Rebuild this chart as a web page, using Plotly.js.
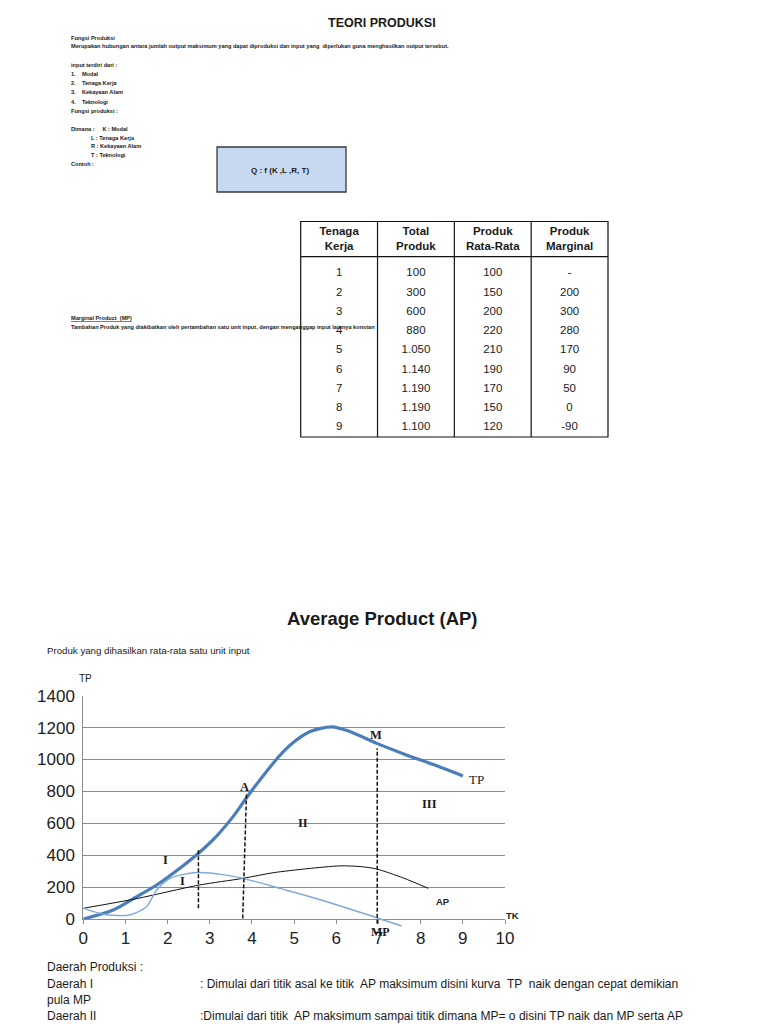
<!DOCTYPE html>
<html><head><meta charset="utf-8">
<script src="https://cdn.plot.ly/plotly-3.0.1.min.js"></script>
<style>html,body{margin:0;padding:0;background:#fff}#page{width:768px;height:1024px}</style>
</head><body><div id="page"></div>
<script>
// ---- table data ----
const tableHeaders = ['Tenaga<br>Kerja', 'Total<br>Produk', 'Produk<br>Rata-Rata', 'Produk<br>Marginal'];
const tenagaKerja = ['1','2','3','4','5','6','7','8','9'];
const totalProduk = ['100','300','600','880','1.050','1.140','1.190','1.190','1.100'];
const produkRataRata = ['100','150','200','220','210','190','170','150','120'];
const produkMarginal = ['-','200','300','280','170','90','50','0','-90'];

// ---- chart data ----
const tpX = [0, 0.71, 1.27, 1.74, 2.29, 2.73, 3.16, 3.56, 3.87, 4.27, 4.66, 4.95, 5.38, 5.89, 6.32, 6.96, 7.6, 8.3, 9];
const tpY = [0, 56, 140, 213, 318, 412, 520, 645, 760, 900, 1025, 1100, 1175, 1205, 1176, 1101, 1035, 968, 897];
const apX = [0, 1.27, 2.73, 3.79, 4.5, 5.3, 6.09, 6.6, 6.96, 7.59, 8.18];
const apY = [67, 128, 212, 255, 290, 315, 333, 328, 313, 257, 192];
const mpX = [0, 0.55, 1.1, 1.5, 1.74, 2.06, 2.61, 3.1, 3.79, 4.66, 5.5, 6.96, 7.55];
const mpY = [67, 27, 25, 77, 182, 255, 290, 285, 255, 192, 130, 8, -44];
const xTicks = [0,1,2,3,4,5,6,7,8,9,10];
const yTicks = [0,200,400,600,800,1000,1200,1400];

const W = 768, H = 1024;
const X = p => p / W;
const Y = p => 1 - p / H;
const SANS = 'Liberation Sans, Arial, sans-serif';
const SERIF = 'Liberation Serif, Times New Roman, serif';

const annotations = [];
function T(text, x, y, size, o) {
  o = o || {};
  annotations.push({
    text: text, xref: 'paper', yref: 'paper', x: X(x), y: Y(y),
    xanchor: o.xa || 'left', yanchor: 'middle', showarrow: false,
    borderpad: 0,
    font: {family: o.family || SANS, size: size, color: o.color || '#1a1a1a', weight: o.weight || 'normal'}
  });
}

// ---- document text ----
const S = 5.6;
T('TEORI PRODUKSI', 382, 23, 12.5, {xa: 'center', weight: 'bold'});
T('Fungsi Produksi', 70, 38, S, {weight: 'bold'});
T('Merupakan hubungan antara jumlah output maksimum yang dapat diproduksi dan input yang  diperlukan guna menghasilkan output tersebut.', 70, 46, S, {weight: 'bold'});
T('input terdiri dari :', 70, 64.5, S, {weight: 'bold'});
T('1.    Modal', 70, 73.8, S, {weight: 'bold'});
T('2.    Tenaga Kerja', 70, 83.1, S, {weight: 'bold'});
T('3.    Kekayaan Alam', 70, 92.4, S, {weight: 'bold'});
T('4.    Teknologi', 70, 101.7, S, {weight: 'bold'});
T('Fungsi produksi :', 70, 111, S, {weight: 'bold'});
T('Dimana :     K : Modal', 70, 129, S, {weight: 'bold'});
T('L : Tenaga Kerja', 90, 137.5, S, {weight: 'bold'});
T('R : Kekayaan Alam', 90, 146, S, {weight: 'bold'});
T('T : Teknologi', 90, 154.5, S, {weight: 'bold'});
T('Contoh :', 70, 163.5, S, {weight: 'bold'});
T('Q : f (K ,L ,R, T)', 280, 170, 8, {xa: 'center', weight: 'bold'});
T('<span style="text-decoration:underline">Marginal Product  (MP)</span>', 70, 318, S, {weight: 'bold'});
T('Tambahan Produk yang diakibatkan oleh pertambahan satu unit input, dengan menganggap input lainnya konstan', 70, 327, S, {weight: 'bold'});

T('Average Product (AP)', 382, 618, 18.5, {xa: 'center', weight: 'bold'});
T('Produk yang dihasilkan rata-rata satu unit input', 46, 650, 9.7);
T('TP', 78, 678, 10);

const B = 12;
T('Daerah Produksi :', 46, 967, B);
T('Daerah I', 46, 984, B);
T(': Dimulai dari titik asal ke titik  AP maksimum disini kurva  TP  naik dengan cepat demikian', 199, 984, B);
T('pula MP', 46, 1000, B);
T('Daerah II', 46, 1016, B);
T(':Dimulai dari titik  AP maksimum sampai titik dimana MP= o disini TP naik dan MP serta AP', 199, 1016, B);

// ---- chart labels ----
T('M', 376, 735, 12.5, {xa: 'center', family: SERIF, weight: 'bold'});
T('A', 244.5, 786.5, 12.5, {xa: 'center', family: SERIF, weight: 'bold'});
T('I', 165, 860, 12.5, {xa: 'center', family: SERIF, weight: 'bold'});
T('I', 182, 881, 12.5, {xa: 'center', family: SERIF, weight: 'bold'});
T('II', 303, 823, 12.5, {xa: 'center', family: SERIF, weight: 'bold'});
T('III', 429, 804, 12.5, {xa: 'center', family: SERIF, weight: 'bold'});
T('TP', 476, 779, 13, {xa: 'center', family: SERIF});
T('AP', 443, 901.5, 9.5, {xa: 'center', weight: 'bold'});
T('TK', 512, 915, 9.5, {xa: 'center', weight: 'bold'});
T('MP', 380, 932, 12, {xa: 'center', family: SERIF, weight: 'bold'});

// ---- shapes ----
const shapes = [];
shapes.push({type: 'rect', xref: 'paper', yref: 'paper', x0: X(217), x1: X(346), y0: Y(192), y1: Y(147),
  fillcolor: '#c6d9f1', line: {color: '#3a3a3a', width: 1.3}, layer: 'below'});
const tL = 300.7, tR = 608, tT = 221.5, tB = 437, tHead = 256.7;
const colW = (tR - tL) / 4;
shapes.push({type: 'rect', xref: 'paper', yref: 'paper', x0: X(tL), x1: X(tR), y0: Y(tB), y1: Y(tT), line: {color: '#111', width: 1.2}});
for (let i = 1; i < 4; i++) {
  shapes.push({type: 'line', xref: 'paper', yref: 'paper', x0: X(tL + i * colW), x1: X(tL + i * colW), y0: Y(tB), y1: Y(tT), line: {color: '#111', width: 1.2}});
}
shapes.push({type: 'line', xref: 'paper', yref: 'paper', x0: X(tL), x1: X(tR), y0: Y(tHead), y1: Y(tHead), line: {color: '#111', width: 1.2}});
const dash = {color: '#111', width: 1.5, dash: '4px,2px'};
shapes.push({type: 'line', xref: 'x2', yref: 'y2', x0: 2.73, x1: 2.73, y0: 67, y1: 432, line: dash});
shapes.push({type: 'line', xref: 'x2', yref: 'y2', x0: 3.78, x1: 3.87, y0: 4, y1: 788, line: dash});
shapes.push({type: 'line', xref: 'x2', yref: 'y2', x0: 6.97, x1: 6.97, y0: -30, y1: 1070, line: dash});

// ---- traces ----
const colCenters = [0.5, 1.5, 2.5, 3.5];
const rowIdx = tenagaKerja.map((_, i) => i + 1);
const tableCols = [tenagaKerja, totalProduk, produkRataRata, produkMarginal];
const traces = [];
traces.push({type: 'scatter', mode: 'lines', x: tpX, y: tpY, xaxis: 'x', yaxis: 'y',
  line: {color: '#4a7ebb', width: 3.2, shape: 'spline', smoothing: 0.8}, hoverinfo: 'skip'});
traces.push({type: 'scatter', mode: 'lines', x: apX, y: apY, xaxis: 'x', yaxis: 'y',
  line: {color: '#111', width: 1, shape: 'spline', smoothing: 0.8}, hoverinfo: 'skip'});
traces.push({type: 'scatter', mode: 'lines', x: mpX, y: mpY, xaxis: 'x2', yaxis: 'y2',
  line: {color: '#7fa9dc', width: 1.4, shape: 'spline', smoothing: 0.7}, hoverinfo: 'skip'});
tableCols.forEach((col, c) => {
  traces.push({type: 'scatter', mode: 'text', x: col.map(() => colCenters[c]), y: rowIdx, text: col,
    textposition: 'middle center', xaxis: 'x3', yaxis: 'y3', cliponaxis: false,
    textfont: {family: SANS, size: 11.5, color: '#1a1a1a'}, hoverinfo: 'skip'});
});
traces.push({type: 'scatter', mode: 'text', x: colCenters, y: colCenters.map(() => -0.76), text: tableHeaders,
  textposition: 'middle center', xaxis: 'x3', yaxis: 'y3', cliponaxis: false,
  textfont: {family: SANS, size: 11.5, color: '#1a1a1a', weight: 'bold'}, hoverinfo: 'skip'});

const pxPerUnit = (919 - 695.7) / 1400;
const layout = {
  width: W, height: H, margin: {l: 0, r: 0, t: 0, b: 0},
  paper_bgcolor: '#fff', plot_bgcolor: 'rgba(0,0,0,0)', showlegend: false,
  xaxis: {domain: [X(83.3), X(505)], range: [0, 10], tickmode: 'array', tickvals: xTicks,
    showgrid: false, zeroline: false, showline: true, linecolor: '#8c8c8c', linewidth: 1,
    ticks: 'outside', ticklen: 4, tickcolor: '#8c8c8c', anchor: 'y',
    tickfont: {family: SANS, size: 17, color: '#222'}, fixedrange: true},
  yaxis: {domain: [Y(919), Y(695.7)], range: [0, 1400], tickmode: 'array', tickvals: yTicks,
    showgrid: true, gridcolor: '#8c8c8c', gridwidth: 1, zeroline: false, showline: true,
    linecolor: '#8c8c8c', ticks: '', anchor: 'x', ticklabelstandoff: 4,
    tickfont: {family: SANS, size: 17, color: '#222'}, fixedrange: true},
  xaxis2: {domain: [X(83.3), X(505)], range: [0, 10], visible: false, anchor: 'y2', fixedrange: true},
  yaxis2: {domain: [Y(959), Y(695.7)], range: [-40 / pxPerUnit, 1400], visible: false, anchor: 'x2', fixedrange: true},
  xaxis3: {domain: [X(tL), X(tR)], range: [0, 4], visible: false, anchor: 'y3', fixedrange: true},
  yaxis3: {domain: [Y(tB), Y(tT)], range: [9.5, -1.7], visible: false, anchor: 'x3', fixedrange: true},
  shapes: shapes, annotations: annotations
};
Plotly.newPlot('page', traces, layout, {staticPlot: true, displayModeBar: false});
</script></body></html>
